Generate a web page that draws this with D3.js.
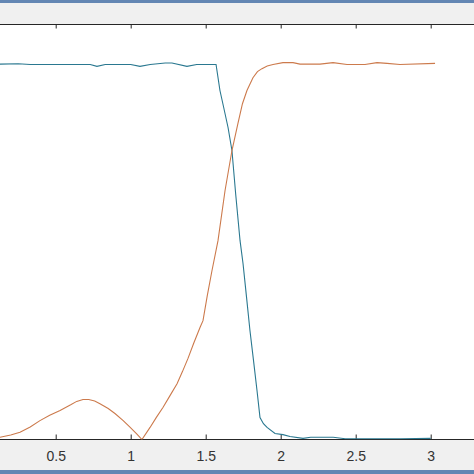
<!DOCTYPE html>
<html>
<head>
<meta charset="utf-8">
<script src="https://cdn.jsdelivr.net/npm/d3@7"></script>
<style>
  html, body { margin: 0; padding: 0; background: #ffffff; }
  svg { display: block; }
</style>
</head>
<body>
<svg id="chart" width="474" height="474"></svg>
<script>
// ---- data ----
const xTicks = [0.5, 1, 1.5, 2, 2.5, 3];
const xTickLabels = ["0.5", "1", "1.5", "2", "2.5", "3"];

const blueX = [0, 0.25, 0.33, 0.73, 0.775, 0.83, 1.0, 1.062, 1.13, 1.23, 1.275, 1.375, 1.44, 1.569,
  1.595, 1.62, 1.649, 1.675, 1.70, 1.729, 1.749, 1.772, 1.795, 1.82, 1.842, 1.862, 1.885, 1.909, 1.962, 2.015, 2.062, 2.149,
  2.2, 2.35, 2.43, 2.6, 2.8, 3.0];
const blueY = [0.994, 0.996, 0.994, 0.994, 0.989, 0.994, 0.994, 0.989, 0.994, 0.998, 0.998, 0.989, 0.994, 0.994,
  0.925, 0.880, 0.827, 0.766, 0.650, 0.527, 0.466, 0.378, 0.289, 0.205, 0.130, 0.058, 0.042, 0.032, 0.016, 0.013, 0.008, 0.003,
  0.006, 0.006, 0.002, 0.002, 0.002, 0.003];

const orangeX = [0, 0.129, 0.2, 0.262, 0.33, 0.395, 0.46, 0.529, 0.6, 0.64, 0.682, 0.72, 0.76, 0.795, 0.85, 0.895,
  0.95, 0.995, 1.04, 1.075, 1.129, 1.17, 1.215, 1.26, 1.309, 1.345, 1.382, 1.42, 1.462, 1.482, 1.51, 1.542,
  1.582, 1.629, 1.675, 1.715, 1.745, 1.775, 1.815, 1.845, 1.875, 1.91, 1.949, 2.015, 2.082,
  2.129, 2.262, 2.349, 2.442, 2.562, 2.642, 2.709, 2.795, 3.029];
const orangeY = [0, 0.006, 0.012, 0.019, 0.033, 0.050, 0.064, 0.077, 0.092, 0.101, 0.106, 0.106, 0.102, 0.095, 0.082, 0.069,
  0.050, 0.033, 0.015, 0, 0.032, 0.058, 0.085, 0.115, 0.148, 0.180, 0.215, 0.255, 0.297, 0.315, 0.380, 0.448,
  0.527, 0.660, 0.766, 0.838, 0.890, 0.925, 0.959, 0.975, 0.983, 0.990, 0.994, 0.999, 0.999,
  0.995, 0.995, 0.999, 0.994, 0.994, 0.999, 0.997, 0.994, 0.997];

// ---- layout ----
const W = 474, H = 474;
const plotTop = 24.5, plotBottom = 439.5;
const svg = d3.select("#chart");

// frame: window bars and gray bands
svg.append("rect").attr("x", 0).attr("y", 0).attr("width", W).attr("height", 3).attr("fill", "#6386b3");
svg.append("rect").attr("x", 0).attr("y", 3).attr("width", W).attr("height", plotTop - 3).attr("fill", "#f0f0f0");
svg.append("rect").attr("x", 0).attr("y", plotBottom).attr("width", W).attr("height", 470 - plotBottom).attr("fill", "#f0f0f0");
svg.append("rect").attr("x", 0).attr("y", 470).attr("width", W).attr("height", 4).attr("fill", "#6386b3");

const x = d3.scaleLinear().domain([0, 3]).range([-19.3, 430.7]);
const y = d3.scaleLinear().domain([0, 1.1]).range([plotBottom, plotTop]);

// axis lines (box edges spanning whole visible width)
svg.append("line").attr("x1", 0).attr("x2", W).attr("y1", plotTop).attr("y2", plotTop)
  .attr("stroke", "#262626").attr("stroke-width", 1);
svg.append("line").attr("x1", 0).attr("x2", W).attr("y1", plotBottom).attr("y2", plotBottom)
  .attr("stroke", "#262626").attr("stroke-width", 1);

// bottom axis with inward ticks and labels
const bottomAxis = d3.axisBottom(x)
  .tickValues(xTicks)
  .tickFormat((d, i) => xTickLabels[i])
  .tickSizeInner(-5)
  .tickSizeOuter(0)
  .tickPadding(12);
const gB = svg.append("g").attr("transform", `translate(0,${plotBottom})`).call(bottomAxis);
gB.select(".domain").remove();
gB.selectAll(".tick line").attr("stroke", "#262626");
gB.selectAll(".tick text").attr("fill", "#333333")
  .style("font-family", "'Liberation Sans', Arial, sans-serif").style("font-size", "14px");

// top axis with inward ticks, no labels
const topAxis = d3.axisTop(x)
  .tickValues(xTicks)
  .tickFormat("")
  .tickSizeInner(-4)
  .tickSizeOuter(0);
const gT = svg.append("g").attr("transform", `translate(0,${plotTop})`).call(topAxis);
gT.select(".domain").remove();
gT.selectAll(".tick line").attr("stroke", "#262626");

// clip to plot area
svg.append("clipPath").attr("id", "clip").append("rect")
  .attr("x", 0).attr("y", plotTop).attr("width", W).attr("height", plotBottom - plotTop);

const line = d3.line().x(d => x(d[0])).y(d => y(d[1]));
const blue = blueX.map((v, i) => [v, blueY[i]]);
const orange = orangeX.map((v, i) => [v, orangeY[i]]);

const gL = svg.append("g").attr("clip-path", "url(#clip)");
gL.append("path").datum(blue).attr("d", line)
  .attr("fill", "none").attr("stroke", "#2a7890").attr("stroke-width", 1.1);
gL.append("path").datum(orange).attr("d", line)
  .attr("fill", "none").attr("stroke", "#cc7a4c").attr("stroke-width", 1.1);
</script>
</body>
</html>
